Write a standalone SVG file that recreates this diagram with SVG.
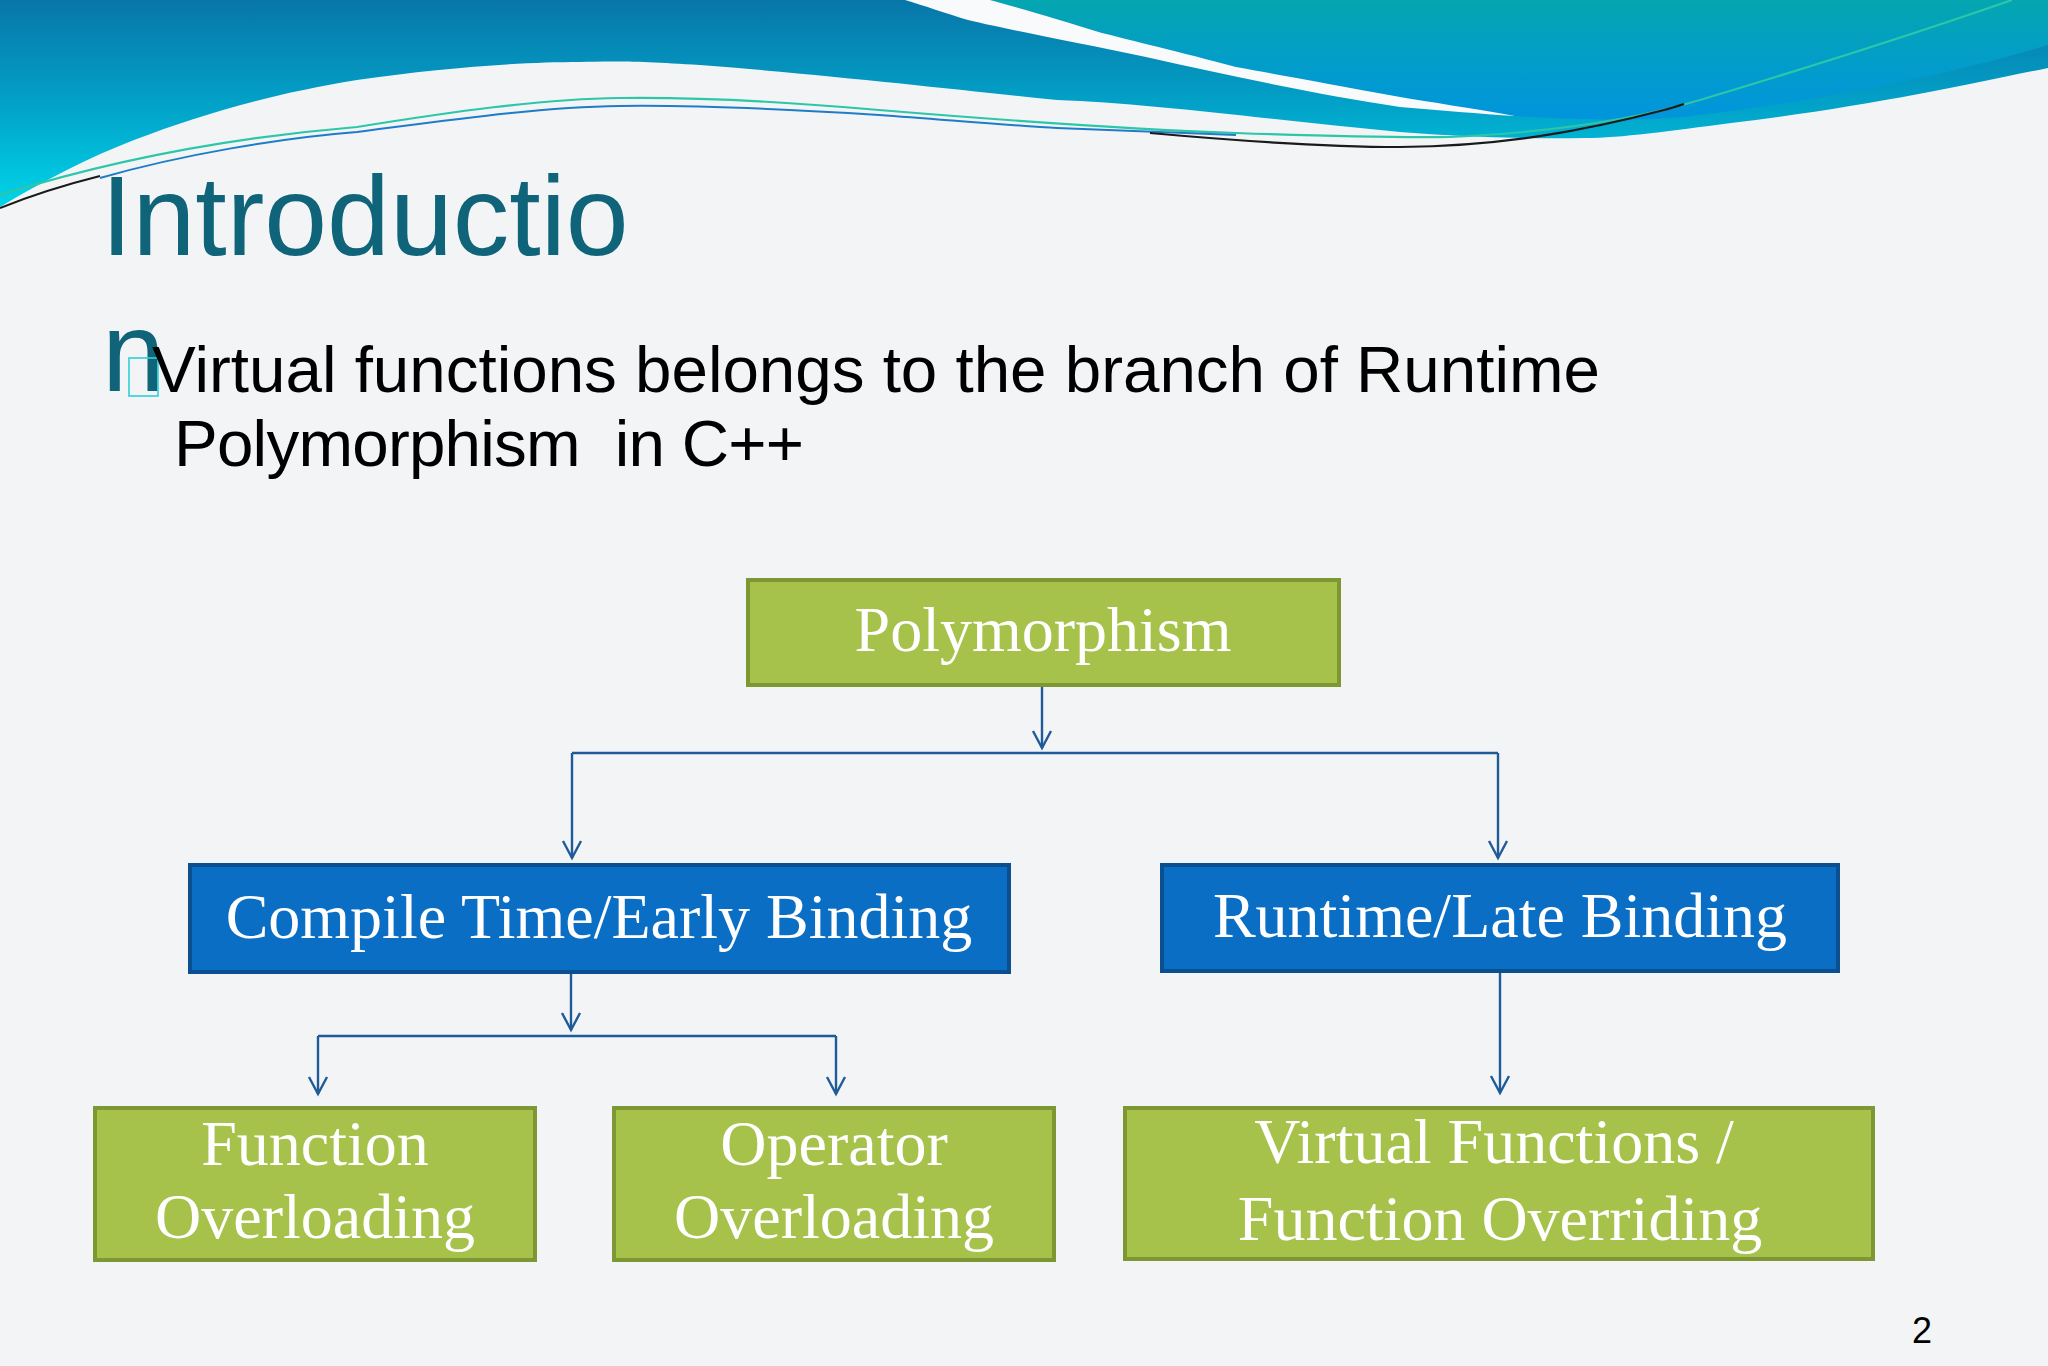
<svg xmlns="http://www.w3.org/2000/svg" width="2048" height="1366" viewBox="0 0 2048 1366">
<defs>
<linearGradient id="gA" gradientUnits="userSpaceOnUse" x1="0" y1="0" x2="0" y2="210">
<stop offset="0" stop-color="#0876a8"/>
<stop offset="0.5" stop-color="#02a2c8"/>
<stop offset="1" stop-color="#00d6ea"/>
</linearGradient>
<linearGradient id="gC" gradientUnits="userSpaceOnUse" x1="0" y1="0" x2="0" y2="125">
<stop offset="0" stop-color="#04a6b0"/>
<stop offset="0.55" stop-color="#029ccc"/>
<stop offset="1" stop-color="#0094de"/>
</linearGradient>
<marker id="arr" markerWidth="24" markerHeight="22" refX="18" refY="10" orient="auto" markerUnits="userSpaceOnUse" viewBox="0 0 24 20">
<path d="M1,1 L18,10 L1,19" fill="none" stroke="#1f5a99" stroke-width="2.4"/>
</marker>
<style>
.bg{fill:#f3f4f6}
.green rect{fill:#a6c24b;stroke:#7d9732;stroke-width:4}
.blue rect{fill:#0b6ec5;stroke:#0c4f8f;stroke-width:4}
.lbl{font-family:"Liberation Serif","Times New Roman",serif;font-size:64px;fill:#ffffff;text-anchor:middle}
.con{fill:none;stroke:#1f5a99;stroke-width:2.4}
.sans{font-family:"Liberation Sans",Arial,sans-serif}
</style>
</defs>
<rect class="bg" x="0" y="0" width="2048" height="1366"/>
<g id="header-wave">
<path d="M0,0 H2048 V68 C1960,86 1860,108 1731,123 C1670,131 1620,138 1586,138 C1520,139 1460,137 1400,132 C1280,121 1150,103 1057,100 C960,90 840,76 700,65 C640,61 610,61 580,62 C520,62 440,68 357,80 C270,94 200,115 134,140 C90,157 45,180 0,207 Z" fill="url(#gA)"/>
<path d="M990,0 H2048 V45 C1950,75 1820,100 1700,115 C1650,121 1600,121 1515,116 C1460,108 1420,101 1400,97 C1330,84 1280,75 1236,67 C1180,52 1130,40 1102,33 C1060,20 1020,8 990,0 Z" fill="url(#gC)"/>
<path d="M905,0 H990 C1020,8 1060,20 1102,33 C1130,40 1180,52 1236,67 C1280,75 1330,84 1400,97 C1430,102 1470,108 1515,116 C1480,114 1440,110 1400,107 C1320,95 1230,76 1146,57 C1080,43 1010,30 968,20 C945,13 925,6 905,0 Z" fill="#f8fafb"/>
<path d="M0,195 C80,170 200,140 357,127 C450,112 540,99 620,98 C700,97 800,103 879,110 C1000,120 1150,130 1236,133 C1320,136 1380,138 1450,137 C1560,132 1640,118 1700,100 C1800,70 1920,32 2012,0" fill="none" stroke="#2cc6a8" stroke-width="2.2"/>
<path d="M100,178 C180,155 280,138 357,132 C450,120 540,107 620,106 C700,105 800,110 879,115 C960,121 1020,126 1057,128 C1120,131 1180,133 1236,135" fill="none" stroke="#1f7cc8" stroke-width="2"/>
<path d="M0,208 C30,196 60,186 100,176" fill="none" stroke="#1a1a1a" stroke-width="2"/>
<path d="M1150,133 C1250,142 1330,147 1400,147 C1500,146 1580,132 1664,110 C1672,108 1678,106 1684,104" fill="none" stroke="#1a1a1a" stroke-width="2.2"/>
</g>
<g id="title">
<text class="sans" x="101" y="255" font-size="113" fill="#0f6479">Introductio</text>
<text class="sans" x="102" y="391" font-size="113" fill="#0f6479">n</text>
</g>
<g id="bullet">
<rect x="129" y="358" width="29" height="38" fill="none" stroke="#30d0d8" stroke-width="1.6"/>
<text class="sans" x="152" y="392" font-size="65.5" fill="#000000">Virtual functions belongs to the branch of Runtime</text>
<text class="sans" x="174" y="466" font-size="65.5" fill="#000000" style="white-space:pre" textLength="630" lengthAdjust="spacing">Polymorphism  in C++</text>
</g>
<g id="connectors">
<path class="con" d="M1042,687 V748" marker-end="url(#arr)"/>
<path class="con" d="M572,753 H1498"/>
<path class="con" d="M572,753 V858" marker-end="url(#arr)"/>
<path class="con" d="M1498,753 V858" marker-end="url(#arr)"/>
<path class="con" d="M571,974 V1030" marker-end="url(#arr)"/>
<path class="con" d="M318,1036 H836"/>
<path class="con" d="M318,1036 V1094" marker-end="url(#arr)"/>
<path class="con" d="M836,1036 V1094" marker-end="url(#arr)"/>
<path class="con" d="M1500,973 V1093" marker-end="url(#arr)"/>
</g>
<g id="node-polymorphism" class="green">
<rect x="748" y="580" width="591" height="105"/>
<text class="lbl" x="1043" y="651">Polymorphism</text>
</g>
<g id="node-compile" class="blue">
<rect x="190" y="865" width="819" height="107"/>
<text class="lbl" x="599" y="938">Compile Time/Early Binding</text>
</g>
<g id="node-runtime" class="blue">
<rect x="1162" y="865" width="676" height="106"/>
<text class="lbl" x="1500" y="937">Runtime/Late Binding</text>
</g>
<g id="node-function-overloading" class="green">
<rect x="95" y="1108" width="440" height="152"/>
<text class="lbl" x="315" y="1165">Function</text>
<text class="lbl" x="315" y="1238">Overloading</text>
</g>
<g id="node-operator-overloading" class="green">
<rect x="614" y="1108" width="440" height="152"/>
<text class="lbl" x="834" y="1165">Operator</text>
<text class="lbl" x="834" y="1238">Overloading</text>
</g>
<g id="node-virtual-functions" class="green">
<rect x="1125" y="1108" width="748" height="151"/>
<text class="lbl" x="1494" y="1163">Virtual Functions /</text>
<text class="lbl" x="1500" y="1240">Function Overriding</text>
</g>
<g id="page-number">
<text class="sans" x="1922" y="1343" font-size="36" fill="#000000" text-anchor="middle">2</text>
</g>
</svg>
